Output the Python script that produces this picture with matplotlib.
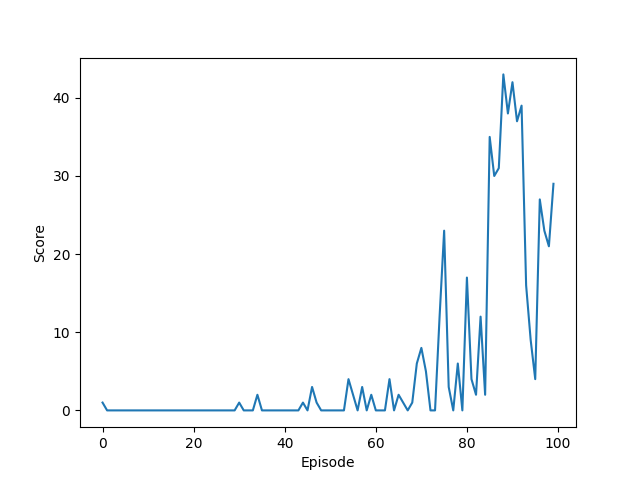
import matplotlib
matplotlib.use("Agg")
import matplotlib.pyplot as plt

scores = [1, 0, 0, 0, 0, 0, 0, 0, 0, 0,
          0, 0, 0, 0, 0, 0, 0, 0, 0, 0,
          0, 0, 0, 0, 0, 0, 0, 0, 0, 0,
          1, 0, 0, 0, 2, 0, 0, 0, 0, 0,
          0, 0, 0, 0, 1, 0, 3, 1, 0, 0,
          0, 0, 0, 0, 4, 2, 0, 3, 0, 2,
          0, 0, 0, 4, 0, 2, 1, 0, 1, 6,
          8, 5, 0, 0, 12, 23, 3, 0, 6, 0,
          17, 4, 2, 12, 2, 35, 30, 31, 43, 38,
          42, 37, 39, 16, 9, 4, 27, 23, 21, 29]
episodes = list(range(len(scores)))

fig = plt.figure(figsize=(6.4, 4.8), dpi=100)
ax = fig.add_subplot(111)
ax.plot(episodes, scores)
ax.set_xlabel("Episode")
ax.set_ylabel("Score")

fig.savefig("out.png")
